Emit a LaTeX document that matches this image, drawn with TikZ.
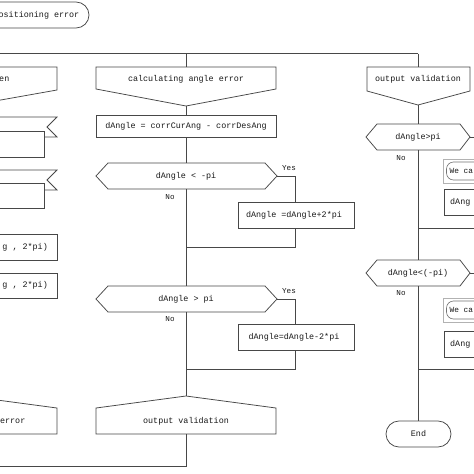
\documentclass[tikz,border=0pt]{standalone}
\usepackage{fontspec}
\newfontfamily\monofnt{Liberation Mono}
\begin{document}
\begin{tikzpicture}[x=1pt,y=-1pt,
  ln/.style={draw=black!72,line width=0.75pt},
  txt/.style={font=\monofnt\fontsize{8.4}{10}\selectfont,text=black!90,inner sep=0pt},
  lbl/.style={font=\monofnt\fontsize{7.6}{9}\selectfont,text=black!90,inner sep=0pt},
  small/.style={font=\monofnt\fontsize{7.8}{9}\selectfont,text=black!90,inner sep=0pt},
  cmtouter/.style={draw=black!30,line width=0.6pt},
  cmtinner/.style={draw=black!55,line width=0.6pt,rounded corners=7pt}]
\useasboundingbox[fill=white] (0,0) rectangle (474,474);

% ---------- top terminal and bus ----------
\draw[ln,rounded corners=13pt] (-120,2) rectangle (89,28);
\node[txt,anchor=east] (title) at (79.5,15) {ositioning error};
\coordinate (busL) at (-10,53.5);
\coordinate (busM) at (186,53.5);
\coordinate (busR) at (418,53.5);
\draw[ln] (busL) -- (busR);

% ---------- left column (partial) ----------
\draw[ln] (-123,67) -- (57,67) -- (57,90) -- (-33,106) -- (-123,90) -- cycle;
\node[txt,anchor=east] (leftA) at (9.5,79) {en};
% ribbons
\draw[ln] (-10,117) -- (57,117) -- (47,127) -- (57,137) -- (44,137);
\draw[ln] (-10,131) -- (44,131) -- (44,157) -- (-10,157);
\draw[ln] (-10,170) -- (57,170) -- (47,180) -- (57,190) -- (44,190);
\draw[ln] (-10,183) -- (44,183) -- (44,208) -- (-10,208);
% boxes
\draw[ln] (-100,234) rectangle (57,260);
\node[txt,anchor=east] (leftB) at (48,247) {g , 2*pi)};
\draw[ln] (-100,273) rectangle (57,298);
\node[txt,anchor=east] (leftC) at (48,285.5) {g , 2*pi)};
% loop end
\draw[ln] (-33,396) -- (57,408) -- (57,434) -- (-123,434) -- (-123,408) -- cycle;
\node[txt,anchor=east] (leftD) at (25.5,421) {error};

% ---------- middle column ----------
\draw[ln] (96,67) -- (276,67) -- (276,89) -- (186,106) -- (96,89) -- cycle;
\node[txt] (calc) at (186,79) {calculating angle error};
\coordinate (calcTop) at (186,67);
\coordinate (calcBot) at (186,106);
\draw[ln] (busM) -- (calcTop);

\draw[ln] (96,115) rectangle (276,137);
\node[txt] (diff) at (186,126) {dAngle = corrCurAng - corrDesAng};
\coordinate (diffTop) at (186,115);
\coordinate (diffBot) at (186,137);
\draw[ln] (calcBot) -- (diffTop);

% hexagon 1
\draw[ln] (96,176) -- (108,163) -- (265,163) -- (277,176) -- (265,189) -- (108,189) -- cycle;
\node[txt] (hexA) at (186,176) {dAngle < -pi};
\coordinate (hexAtop) at (186,163);
\coordinate (hexAbot) at (186,189);
\coordinate (hexAright) at (277,176);
\draw[ln] (diffBot) -- (hexAtop);
\node[lbl] (yesA) at (289,168) {Yes};
\node[lbl] (noA) at (170,197) {No};

\draw[ln] (238,202) rectangle (354,228);
\node[txt] (addpi) at (294,215) {dAngle =dAngle+2*pi};
\coordinate (addTop) at (295,202);
\coordinate (addBot) at (295,228);
\coordinate (mergeA) at (186,247);
\draw[ln] (hexAright) -| (addTop);
\draw[ln] (addBot) |- (mergeA);

% hexagon 2
\draw[ln] (96,299) -- (108,286) -- (265,286) -- (277,299) -- (265,312) -- (108,312) -- cycle;
\node[txt] (hexB) at (186,299) {dAngle > pi};
\coordinate (hexBtop) at (186,286);
\coordinate (hexBbot) at (186,312);
\coordinate (hexBright) at (277,299);
\draw[ln] (hexAbot) -- (hexBtop);
\node[lbl] (yesB) at (289,291) {Yes};
\node[lbl] (noB) at (170,319) {No};

\draw[ln] (238,324) rectangle (354,350);
\node[txt] (subpi) at (294,337) {dAngle=dAngle-2*pi};
\coordinate (subTop) at (295,324);
\coordinate (subBot) at (295,350);
\coordinate (mergeB) at (186,369);
\draw[ln] (hexBright) -| (subTop);
\draw[ln] (subBot) |- (mergeB);

% loop end output validation
\draw[ln] (186,396) -- (276,408) -- (276,434) -- (96,434) -- (96,408) -- cycle;
\node[txt] (outv) at (186,421) {output validation};
\coordinate (outTop) at (186,396);
\coordinate (outBot) at (186,434);
\coordinate (bottomL) at (-10,466);
\draw[ln] (hexBbot) -- (outTop);
\draw[ln] (outBot) |- (bottomL);

% ---------- right column ----------
\draw[ln] (367,67) -- (470,67) -- (470,91) -- (418,105) -- (367,91) -- cycle;
\node[txt] (outR) at (418,79) {output validation};
\coordinate (outRtop) at (418,67);
\coordinate (outRbot) at (418,105);
\draw[ln] (busR) -- (outRtop);

% hexagon 3
\draw[ln] (366,137) -- (377,124) -- (460,124) -- (470,137) -- (460,150) -- (377,150) -- cycle;
\node[txt] (hexC) at (418,137) {dAngle>pi};
\coordinate (hexCtop) at (418,124);
\coordinate (hexCbot) at (418,150);
\coordinate (hexCright) at (470,137);
\coordinate (hexCout) at (480,137);
\draw[ln] (outRbot) -- (hexCtop);
\draw[ln] (hexCright) -- (hexCout);
\node[lbl] (noC) at (401,158) {No};

\draw[cmtouter] (443,159) rectangle (490,183);
\draw[cmtinner] (446.5,162) rectangle (500,180);
\node[small,anchor=west] (weA) at (449.5,171) {We ca};
\draw[ln] (444,189) rectangle (490,215);
\node[txt,anchor=west] (dangA) at (450,202) {dAng};
\coordinate (mergeC) at (418,228);
\coordinate (mergeCout) at (480,228);
\draw[ln] (mergeC) -- (mergeCout);

% hexagon 4
\draw[ln] (366,273) -- (377,260) -- (460,260) -- (470,273) -- (460,286) -- (377,286) -- cycle;
\node[txt] (hexD) at (418,273) {dAngle<(-pi)};
\coordinate (hexDtop) at (418,260);
\coordinate (hexDbot) at (418,286);
\coordinate (hexDright) at (470,273);
\coordinate (hexDout) at (480,273);
\draw[ln] (hexCbot) -- (hexDtop);
\draw[ln] (hexDright) -- (hexDout);
\node[lbl] (noD) at (401,293) {No};

\draw[cmtouter] (443,298) rectangle (490,322);
\draw[cmtinner] (446.5,301) rectangle (500,319);
\node[small,anchor=west] (weB) at (449.5,310) {We ca};
\draw[ln] (444,331) rectangle (490,357);
\node[txt,anchor=west] (dangB) at (450,344) {dAng};
\coordinate (mergeD) at (418,369);
\coordinate (mergeDout) at (480,369);
\draw[ln] (mergeD) -- (mergeDout);

% end terminal
\draw[ln,rounded corners=13pt] (386,421) rectangle (451,447);
\node[txt] (endT) at (418.5,434) {End};
\coordinate (endTop) at (418,421);
\draw[ln] (hexDbot) -- (endTop);
\end{tikzpicture}
\end{document}
